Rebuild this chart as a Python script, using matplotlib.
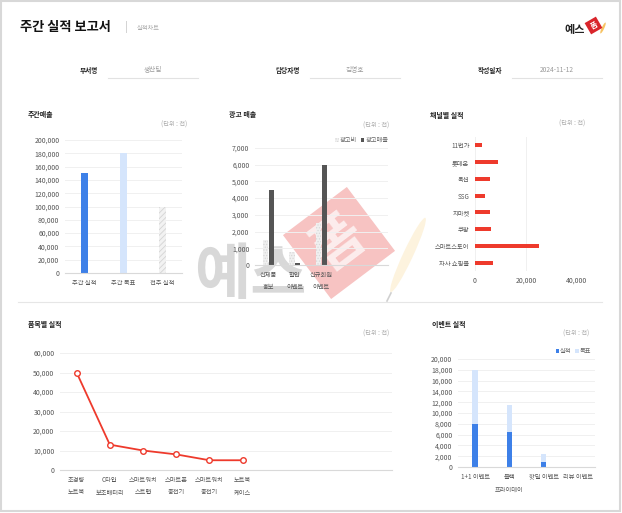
import matplotlib
matplotlib.use('Agg')
import matplotlib.pyplot as plt
from matplotlib.patches import Rectangle, Ellipse

plt.rcParams['font.family'] = ['Noto Sans CJK KR', 'DejaVu Sans']
plt.rcParams['hatch.linewidth'] = 0.6

# ---- data ----
weekly_labels = ['주간 실적', '주간 목표', '전주 실적']
weekly_values = [150000, 180000, 100000]

ad_labels = ['신제품\n홍보', '할인\n이벤트', '신규회원\n이벤트', '', '']
ad_cost = [1500, 800, 2500, 0, 0]
ad_sales = [4500, 100, 6000, 0, 0]

channel_labels = ['11번가', '롯데온', '옥션', 'SSG', '지마켓', '쿠팡', '스마트스토어', '자사 쇼핑몰']
channel_values = [2600, 9000, 5700, 4000, 5700, 6100, 25000, 7000]

item_labels = ['초경량\n노트북', 'C타입\n보조배터리', '스마트워치\n스트랩', '스마트폰\n충전기',
               '스마트워치\n충전기', '노트북\n케이스', '', '', '', '']
item_values = [50000, 13000, 10000, 8000, 5000, 5000]

event_labels = ['1+1 이벤트', '블랙\n프라이데이', '핫딜 이벤트', '리뷰 이벤트']
event_actual = [8000, 6500, 1000, 0]
event_target = [10000, 5000, 1500, 0]

W, H = 622, 513
fig = plt.figure(figsize=(W / 100, H / 100), dpi=100)

def box(x0, y0, x1, y1):  # pixel box -> figure coords
    return [x0 / W, 1 - y1 / H, (x1 - x0) / W, (y1 - y0) / H]

def txt(x, y, s, **kw):
    fig.text(x / W, 1 - y / H, s, **kw)

BLUE = '#3d80e8'
LBLUE = '#d5e5fc'
RED = '#ee3a2c'
GRID = '#f0f0f0'
TICK = '#555555'

def style(ax, grid_axis='y'):
    ax.set_facecolor('none')
    for s in ['top', 'right', 'left']:
        ax.spines[s].set_visible(False)
    ax.spines['bottom'].set_color('#d9d9d9')
    ax.spines['bottom'].set_linewidth(0.8)
    ax.tick_params(length=0, labelsize=5, colors=TICK, pad=4)
    ax.grid(axis=grid_axis, color=GRID, linewidth=0.7)
    ax.set_axisbelow(True)

# ---- background layer in pixel coordinates (frame, header, watermark) ----
ov = fig.add_axes([0, 0, 1, 1], zorder=-1)
ov.set_xlim(0, W)
ov.set_ylim(H, 0)
ov.axis('off')
ov.add_patch(Rectangle((1, 1), W - 3, H - 3, fill=False, edgecolor='#d8d8d8', linewidth=1.5))
ov.plot([18, 602], [302, 302], color='#e6e6e6', linewidth=0.8)

# watermark
ov.text(194, 276, '예스', fontsize=44, fontweight='bold', color='#c8c8c8', alpha=0.7,
        va='center', ha='left')
ov.add_patch(Rectangle((299, 203), 80, 80, angle=-37, rotation_point='center',
                       facecolor='#e53935', alpha=0.3))
ov.text(339, 243, '폼', fontsize=40, fontweight='bold', color='white', alpha=0.7,
        rotation=37, ha='center', va='center')
ov.add_patch(Ellipse((408, 255), 10, 82, angle=25, facecolor='#f6c55c', alpha=0.2))
ov.plot([391, 387], [293, 301], color='#d0d0d0', linewidth=1.2)

txt(20, 27, '주간 실적 보고서', fontsize=9.5, fontweight='bold', va='center', color='#111')
txt(125, 27, '|', fontsize=7, va='center', color='#bbb')
txt(137, 28, '실적차트', fontsize=4.5, va='center', color='#aaa')

# header info row
info = [(80, 108, 198, '부서명', '생산팀'),
        (276, 310, 400, '담당자명', '김영호'),
        (478, 512, 602, '작성일자', '2024-11-12')]
for lx, u0, u1, lab, val in info:
    txt(lx, 70, lab, fontsize=4.8, fontweight='bold', va='center', color='#222')
    txt((u0 + u1) / 2, 70, val, fontsize=4.8, va='center', ha='center', color='#999')
    ov.plot([u0, u1], [77.5, 77.5], color='#e2e2e2', linewidth=0.8)

# logo (top right)
ov.text(564, 29, '예스', fontsize=8, fontweight='bold', color='#222', va='center', ha='left')
ov.add_patch(Rectangle((587, 19), 13, 13, angle=-30, rotation_point='center',
                       facecolor='#d9252b', zorder=3))
ov.text(593.5, 25.5, '폼', fontsize=5.5, fontweight='bold', color='white',
        rotation=30, ha='center', va='center', zorder=4)
ov.add_patch(Ellipse((603, 28), 2.5, 12, angle=25, facecolor='#f5b43c', alpha=0.8))

# ---- chart 1: 주간매출 ----
txt(28, 115, '주간매출', fontsize=5, fontweight='bold', va='center', color='#222')
txt(187, 125, '(단위 : 천)', fontsize=4.5, va='center', ha='right', color='#aaa')
ax1 = fig.add_axes(box(65, 140, 182, 273))
style(ax1)
b = ax1.bar(range(3), weekly_values, width=0.18, color=[BLUE, LBLUE, '#f2f2f2'])
b[2].set_hatch('//////')
b[2].set_edgecolor('#d4d4d4')
b[2].set_linewidth(0)
ax1.set_ylim(0, 200000)
ax1.set_xlim(-0.5, 2.5)
ax1.set_yticks(range(0, 200001, 20000))
ax1.set_yticklabels([f'{v:,}' for v in range(0, 200001, 20000)])
ax1.set_xticks(range(3))
ax1.set_xticklabels(weekly_labels, fontsize=4.5)

# ---- chart 2: 광고 매출 ----
txt(229, 115, '광고 매출', fontsize=5, fontweight='bold', va='center', color='#222')
txt(389, 126, '(단위 : 천)', fontsize=4.5, va='center', ha='right', color='#aaa')
ax2 = fig.add_axes(box(255, 148, 388, 265))
style(ax2)
x2 = list(range(len(ad_labels)))
ax2.bar([i - 0.11 for i in x2], ad_cost, width=0.19, color='#f0f0f0', hatch='......',
        edgecolor='#d8d8d8', linewidth=0, label='광고비')
ax2.bar([i + 0.11 for i in x2], ad_sales, width=0.19, color='#555555', label='광고매출')
ax2.set_ylim(0, 7000)
ax2.set_xlim(-0.5, len(ad_labels) - 0.5)
ax2.set_yticks(range(0, 7001, 1000))
ax2.set_yticklabels([f'{v:,}' for v in range(0, 7001, 1000)])
ax2.set_xticks(x2)
ax2.set_xticklabels(ad_labels, fontsize=4.5, linespacing=1.8)
ax2.legend(loc='lower right', bbox_to_anchor=(1.03, 1.0), frameon=False, fontsize=4.5,
           ncol=2, handlelength=0.5, handleheight=0.5, handletextpad=0.2, columnspacing=0.6,
           labelcolor='#666', borderaxespad=0.2)

# ---- chart 3: 채널별 실적 ----
txt(430, 115, '채널별 실적', fontsize=5, fontweight='bold', va='center', color='#222')
txt(585, 124, '(단위 : 천)', fontsize=4.5, va='center', ha='right', color='#aaa')
ax3 = fig.add_axes(box(475, 137, 577, 271))
style(ax3, grid_axis='x')
ax3.spines['bottom'].set_visible(False)
ax3.barh(range(len(channel_labels)), channel_values, height=0.25, color=RED)
ax3.set_ylim(len(channel_labels) - 0.5, -0.5)
ax3.set_xlim(0, 40000)
ax3.set_xticks([0, 20000, 40000])
ax3.set_xticklabels(['0', '20,000', '40,000'])
ax3.set_yticks(range(len(channel_labels)))
ax3.set_yticklabels(channel_labels, fontsize=4.5)

# ---- chart 4: 품목별 실적 ----
txt(28, 325, '품목별 실적', fontsize=5, fontweight='bold', va='center', color='#222')
txt(389, 334, '(단위 : 천)', fontsize=4.5, va='center', ha='right', color='#aaa')
ax4 = fig.add_axes(box(60, 353, 392, 470))
style(ax4)
ax4.plot(range(len(item_values)), item_values, color=RED, linewidth=1.3, marker='o',
         markersize=4, markerfacecolor='white', markeredgecolor=RED, markeredgewidth=1)
ax4.set_ylim(0, 60000)
ax4.set_xlim(-0.5, len(item_labels) - 0.5)
ax4.set_yticks(range(0, 60001, 10000))
ax4.set_yticklabels([f'{v:,}' for v in range(0, 60001, 10000)])
ax4.set_xticks(range(len(item_labels)))
ax4.set_xticklabels(item_labels, fontsize=4.5, linespacing=1.8)

# ---- chart 5: 이벤트 실적 ----
txt(432, 325, '이벤트 실적', fontsize=5, fontweight='bold', va='center', color='#222')
txt(589, 334, '(단위 : 천)', fontsize=4.5, va='center', ha='right', color='#aaa')
ax5 = fig.add_axes(box(458, 359, 595, 467))
style(ax5)
x5 = list(range(len(event_labels)))
ax5.bar(x5, event_actual, width=0.16, color=BLUE, label='실적')
ax5.bar(x5, event_target, width=0.16, bottom=event_actual, color=LBLUE, label='목표')
ax5.set_ylim(0, 20000)
ax5.set_xlim(-0.5, len(event_labels) - 0.5)
ax5.set_yticks(range(0, 20001, 2000))
ax5.set_yticklabels([f'{v:,}' for v in range(0, 20001, 2000)])
ax5.set_xticks(x5)
ax5.set_xticklabels(event_labels, fontsize=4.5, linespacing=1.8)
ax5.legend(loc='lower right', bbox_to_anchor=(1.0, 1.0), frameon=False, fontsize=4.5,
           ncol=2, handlelength=0.5, handleheight=0.5, handletextpad=0.2, columnspacing=0.6,
           labelcolor='#666', borderaxespad=0.2)

fig.savefig('out.png', dpi=100)
